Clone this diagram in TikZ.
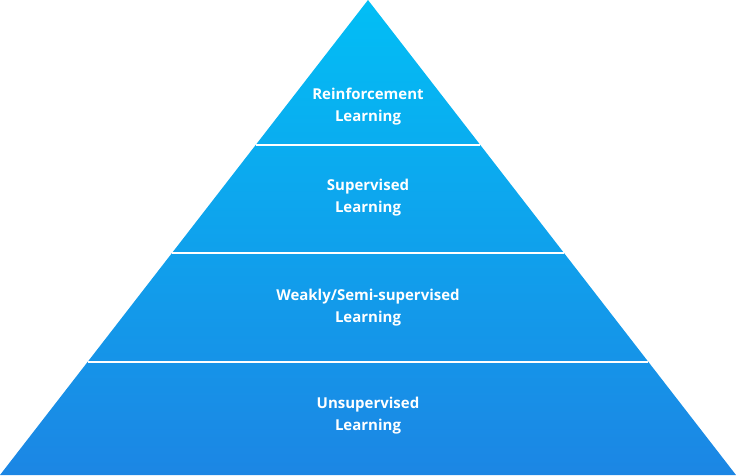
\documentclass[tikz,border=0pt]{standalone}
\usepackage{fontspec}
\setmainfont{Open Sans}
\definecolor{topc}{RGB}{2,190,245}
\definecolor{botc}{RGB}{28,134,228}
\tikzset{lbl/.style={text=white,font=\bfseries\fontsize{15}{22}\selectfont,align=center}}
\begin{document}
\begin{tikzpicture}[x=1pt,y=-1pt]
\useasboundingbox (0,0) rectangle (736,475);
\coordinate (apex) at (368,0);
\coordinate (bl) at (0,475);
\coordinate (br) at (736,475);
\shade[top color=topc,bottom color=botc] (apex) -- (br) -- (bl) -- cycle;
\foreach \y in {145,253,362}{
  \pgfmathsetmacro{\dx}{0.774737*\y}
  \draw[white,line width=1.5pt] (368-\dx,\y) -- (368+\dx,\y);
}
\node[lbl] (n1) at (368,107) {Reinforcement\\Learning};
\node[lbl] (n2) at (368,198) {Supervised\\Learning};
\node[lbl] (n3) at (368,308) {Weakly/Semi-supervised\\Learning};
\node[lbl] (n4) at (368,416) {Unsupervised\\Learning};
\end{tikzpicture}
\end{document}
